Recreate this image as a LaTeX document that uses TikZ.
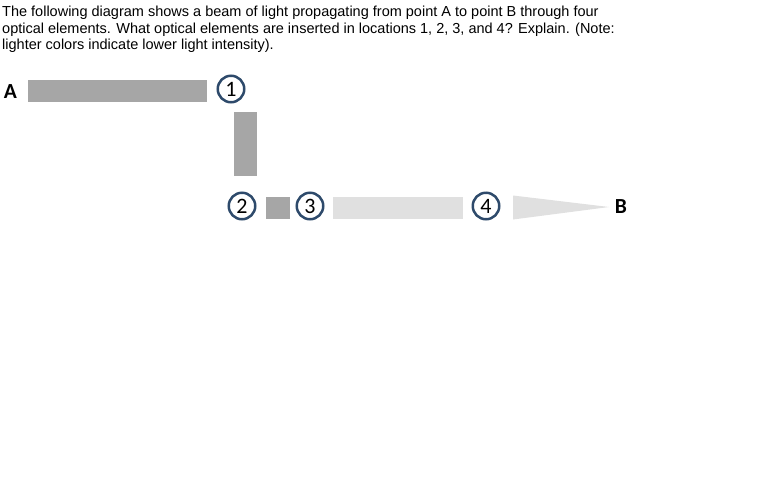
\documentclass[tikz,border=0pt]{standalone}
\usepackage{fontspec}
\setmainfont{Liberation Sans}
\newfontfamily\markfont{Carlito}
\usepackage{xcolor}
\usetikzlibrary{shapes,arrows}
\definecolor{beamdark}{HTML}{A6A6A6}
\definecolor{beamlight}{HTML}{E0E0E0}
\definecolor{ringblue}{HTML}{2E4A6B}

\begin{document}
\begin{tikzpicture}[x=1pt, y=-1pt,
  marker/.style = {circle, draw=ringblue, line width=2.5pt, minimum size=26.5pt,
                   inner sep=0pt, font=\markfont\fontsize{22}{22}\selectfont},
  point/.style = {inner sep=0pt, font=\markfont\bfseries\fontsize{21.5}{21.5}\selectfont},
  question/.style = {anchor=base west, inner sep=0pt, font=\fontsize{14.5}{16}\selectfont}]
\useasboundingbox (0,0) rectangle (768,480);
\fill [white] (0,0) rectangle (768,480);

\node[question] (q1) at (2,16.7) {The following diagram shows a beam of light propagating from point A to point B through four};
\node[question] (q2) at (2,33.0) {optical elements. What optical elements are inserted in locations 1, 2, 3, and 4? Explain. (Note:};
\node[question] (q3) at (2,49.3) {lighter colors indicate lower light intensity).};

% beam
\fill [beamdark] (28,79.5) rectangle (207,102);
\fill [beamdark] (233.5,112) rectangle (256.5,176);
\fill [beamdark] (266,196.5) rectangle (290,218.5);
\fill [beamlight] (333,196.5) rectangle (463,218.5);
\fill [beamlight] (513,195.5) -- (609,207) -- (513,219.5) -- cycle;

\node[point] (ptA) at (10.5,91.5) {A};
\node[point] (ptB) at (621,207) {B};

% optical elements
\node[marker] (m1) at (231,89) {1};
\foreach \n/\x in {2/242, 3/310, 4/486}
\node[marker] (m\n) at (\x,206) {\n};

\end{tikzpicture}
\end{document}
